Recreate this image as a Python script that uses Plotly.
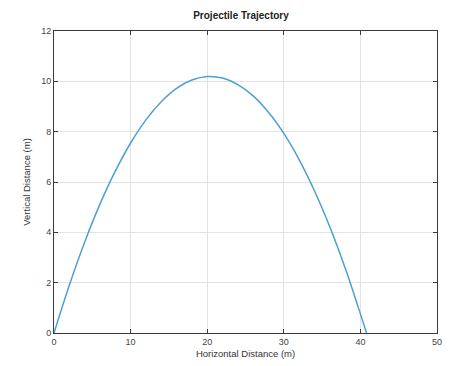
import plotly.graph_objects as go

# Values
x_m = [0, 2, 4, 6, 8, 10, 12, 14, 16, 18, 20, 22, 24, 26, 28, 30, 32, 34, 36, 38, 40, 40.8]
y_m = [0, 1.90, 3.61, 5.12, 6.43, 7.55, 8.47, 9.19, 9.72, 10.05, 10.19, 10.13, 9.87, 9.42, 8.77, 7.93, 6.89, 5.65, 4.22, 2.59, 0.76, 0]

x_ticks = [0, 10, 20, 30, 40, 50]
y_ticks = [0, 2, 4, 6, 8, 10, 12]

fig = go.Figure()
fig.add_trace(go.Scatter(x=x_m, y=y_m, mode="lines", line=dict(color="#4d9fd6", width=1.5, shape="spline"),
                         showlegend=False))

axis_common = dict(showgrid=True, gridcolor="#e3e3e3", gridwidth=1, zeroline=False,
                   showline=True, linecolor="#3a3a3a", linewidth=1, mirror="ticks",
                   ticks="inside", ticklen=4, tickcolor="#3a3a3a", automargin=False,
                   tickfont=dict(family="Liberation Sans, Arial", size=9, color="#444"))

# page body has an 8px default margin, so the figure is 8px smaller
fig.update_layout(
    width=466, height=358,
    margin=dict(l=46, r=37, t=23, b=33),
    paper_bgcolor="white", plot_bgcolor="white",
    title=dict(text="<b>Projectile Trajectory</b>", x=0.5, xanchor="center", y=0.978, yanchor="middle",
               font=dict(family="Liberation Sans, Arial", size=10, color="#222")),
    xaxis=dict(range=[0, 50], tickvals=x_ticks, **axis_common,
               title=dict(text="Horizontal Distance (m)", standoff=4,
                          font=dict(family="Liberation Sans, Arial", size=9.5, color="#333"))),
    yaxis=dict(range=[0, 12], tickvals=y_ticks, **axis_common,
               title=dict(text="Vertical Distance (m)", standoff=8,
                          font=dict(family="Liberation Sans, Arial", size=9.5, color="#333"))),
)

fig.write_html("out.html")
